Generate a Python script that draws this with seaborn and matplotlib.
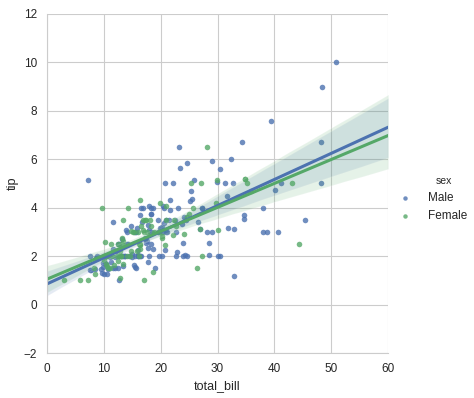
import pandas as pd
import matplotlib.pyplot as plt
import seaborn as sns

# ----------------------------
# Data (restaurant tips: total_bill, tip, sex)
# ----------------------------
total_bill = [
    16.99, 10.34, 21.01, 23.68, 24.59, 25.29, 8.77, 26.88, 15.04, 14.78,
    10.27, 35.26, 15.42, 18.43, 14.83, 21.58, 10.33, 16.29, 16.97, 20.65,
    17.92, 20.29, 15.77, 39.42, 19.82, 17.81, 13.37, 12.69, 21.7, 19.65,
    9.55, 18.35, 15.06, 20.69, 17.78, 24.06, 16.31, 16.93, 18.69, 31.27,
    16.04, 17.46, 13.94, 9.68, 30.4, 18.29, 22.23, 32.4, 28.55, 18.04,
    12.54, 10.29, 34.81, 9.94, 25.56, 19.49, 38.01, 26.41, 11.24, 48.27,
    20.29, 13.81, 11.02, 18.29, 17.59, 20.08, 16.45, 3.07, 20.23, 15.01,
    12.02, 17.07, 26.86, 25.28, 14.73, 10.51, 17.92, 27.2, 22.76, 17.29,
    19.44, 16.66, 10.07, 32.68, 15.98, 34.83, 13.03, 18.28, 24.71, 21.16,
    28.97, 22.49, 5.75, 16.32, 22.75, 40.17, 27.28, 12.03, 21.01, 12.46,
    11.35, 15.38, 44.3, 22.42, 20.92, 15.36, 20.49, 25.21, 18.24, 14.31,
    14.0, 7.25, 38.07, 23.95, 25.71, 17.31, 29.93, 10.65, 12.43, 24.08,
    11.69, 13.42, 14.26, 15.95, 12.48, 29.8, 8.52, 14.52, 11.38, 22.82,
    19.08, 20.27, 11.17, 12.26, 18.26, 8.51, 10.33, 14.15, 16.0, 13.16,
    17.47, 34.3, 41.19, 27.05, 16.43, 8.35, 18.64, 11.87, 9.78, 7.51,
    14.07, 13.13, 17.26, 24.55, 19.77, 29.85, 48.17, 25.0, 13.39, 16.49,
    21.5, 12.66, 16.21, 13.81, 17.51, 24.52, 20.76, 31.71, 10.59, 10.63,
    50.81, 15.81, 7.25, 31.85, 16.82, 32.9, 17.89, 14.48, 9.6, 34.63,
    34.65, 23.33, 45.35, 23.17, 40.55, 20.69, 20.9, 30.46, 18.15, 23.1,
    15.69, 19.81, 28.44, 15.48, 16.58, 7.56, 10.34, 43.11, 13.0, 13.51,
    18.71, 12.74, 13.0, 16.4, 20.53, 16.47, 26.59, 38.73, 24.27, 12.76,
    30.06, 25.89, 48.33, 13.27, 28.17, 12.9, 28.15, 11.59, 7.74, 30.14,
    12.16, 13.42, 8.58, 15.98, 13.42, 16.27, 10.09, 20.45, 13.28, 22.12,
    24.01, 15.69, 11.61, 10.77, 15.53, 10.07, 12.6, 32.83, 35.83, 29.03,
    27.18, 22.67, 17.82, 18.78,
]
tip = [
    1.01, 1.66, 3.5, 3.31, 3.61, 4.71, 2.0, 3.12, 1.96, 3.23,
    1.71, 5.0, 1.57, 3.0, 3.02, 3.92, 1.67, 3.71, 3.5, 3.35,
    4.08, 2.75, 2.23, 7.58, 3.18, 2.34, 2.0, 2.0, 4.3, 3.0,
    1.45, 2.5, 3.0, 2.45, 3.27, 3.6, 2.0, 3.07, 2.31, 5.0,
    2.24, 2.54, 3.06, 1.32, 5.6, 3.0, 5.0, 6.0, 2.05, 3.0,
    2.5, 2.6, 5.2, 1.56, 4.34, 3.51, 3.0, 1.5, 1.76, 6.73,
    3.21, 2.0, 1.98, 3.76, 2.64, 3.15, 2.47, 1.0, 2.01, 2.09,
    1.97, 3.0, 3.14, 5.0, 2.2, 1.25, 3.08, 4.0, 3.0, 2.71,
    3.0, 3.4, 1.83, 5.0, 2.03, 5.17, 2.0, 4.0, 5.85, 3.0,
    3.0, 3.5, 1.0, 4.3, 3.25, 4.73, 4.0, 1.5, 3.0, 1.5,
    2.5, 3.0, 2.5, 3.48, 4.08, 1.64, 4.06, 4.29, 3.76, 4.0,
    3.0, 1.0, 4.0, 2.55, 4.0, 3.5, 5.07, 1.5, 1.8, 2.92,
    2.31, 1.68, 2.5, 2.0, 2.52, 4.2, 1.48, 2.0, 2.0, 2.18,
    1.5, 2.83, 1.5, 2.0, 3.25, 1.25, 2.0, 2.0, 2.0, 2.75,
    3.5, 6.7, 5.0, 5.0, 2.3, 1.5, 1.36, 1.63, 1.73, 2.0,
    2.5, 2.0, 2.74, 2.0, 2.0, 5.14, 5.0, 3.75, 2.61, 2.0,
    3.5, 2.5, 2.0, 2.0, 3.0, 3.48, 2.24, 4.5, 1.61, 2.0,
    10.0, 3.16, 5.15, 3.18, 4.0, 3.11, 2.0, 2.0, 4.0, 3.55,
    3.68, 5.65, 3.5, 6.5, 3.0, 5.0, 3.5, 2.0, 3.5, 4.0,
    1.5, 4.19, 2.56, 2.02, 4.0, 1.44, 2.0, 5.0, 2.0, 2.0,
    4.0, 2.01, 2.0, 2.5, 4.0, 3.23, 3.41, 3.0, 2.03, 2.23,
    2.0, 5.16, 9.0, 2.5, 6.5, 1.1, 3.0, 1.5, 1.44, 3.09,
    2.2, 3.48, 1.92, 3.0, 1.58, 2.5, 2.0, 3.0, 2.72, 2.88,
    2.0, 3.0, 3.39, 1.47, 3.0, 1.25, 1.0, 1.17, 4.67, 5.92,
    2.0, 2.0, 1.75, 3.0,
]
M, F = "Male", "Female"
sex = [
    F, M, M, M, F, M, M, M, M, M,
    M, F, M, M, F, M, F, M, F, M,
    M, F, F, M, M, M, M, M, M, F,
    M, M, F, F, M, M, M, F, M, M,
    M, M, M, M, M, M, M, M, M, M,
    M, F, F, M, M, M, M, F, M, M,
    M, M, M, M, M, M, F, F, M, M,
    M, F, F, F, F, M, M, M, M, M,
    M, M, F, M, M, F, M, M, M, M,
    M, M, F, F, F, M, M, M, M, M,
    F, F, F, F, F, M, M, M, M, F,
    M, F, M, M, F, F, M, F, F, F,
    M, F, M, M, F, F, M, F, F, M,
    M, F, F, F, F, F, F, F, M, F,
    F, M, M, F, F, F, F, F, M, M,
    M, M, M, M, M, F, M, F, F, M,
    M, M, F, M, F, M, M, M, F, F,
    M, M, M, M, M, M, M, M, F, M,
    M, M, M, M, M, M, F, M, F, M,
    M, F, M, M, M, M, M, F, F, M,
    M, F, F, F, M, F, M, M, M, F,
    M, M, M, F, F, F, M, M, M, F,
    M, F, M, F, M, F, F, M, M, F,
    M, M, M, M, M, M, M, M, F, M,
    F, M, M, F,
]

df = pd.DataFrame({"total_bill": total_bill, "tip": tip, "sex": sex})

sex_order = ["Male", "Female"]
colors = {"Male": "#4C72B0", "Female": "#55A868"}

# ----------------------------
# Style
# ----------------------------
sns.set_style("whitegrid")
plt.rcParams["font.family"] = ["Liberation Sans", "DejaVu Sans"]
plt.rcParams["axes.edgecolor"] = ".8"
plt.rcParams["grid.color"] = ".8"
plt.rcParams["xtick.labelsize"] = 8.5
plt.rcParams["ytick.labelsize"] = 8.5
plt.rcParams["axes.labelsize"] = 9
plt.rcParams["text.color"] = ".15"

fig, ax = plt.subplots(figsize=(4.74, 3.98), dpi=100)
fig.subplots_adjust(left=0.099, right=0.819, top=0.965, bottom=0.113)
ax.set_xlim(0, 60)
ax.set_ylim(-2, 12)

for s in sex_order:
    sub = df[df["sex"] == s]
    sns.regplot(
        data=sub, x="total_bill", y="tip", ax=ax,
        color=colors[s], truncate=False, seed=0, label=s,
        scatter_kws={"s": 16, "alpha": 0.8, "linewidths": 0},
        line_kws={"linewidth": 2.2},
    )

ax.set_xlim(0, 60)
ax.set_ylim(-2, 12)
ax.set_xticks(range(0, 61, 10))
ax.set_yticks(range(-2, 13, 2))
sns.despine(ax=ax)
ax.set_xlabel("total_bill")
ax.set_ylabel("tip")

handles, labels = ax.get_legend_handles_labels()
leg = fig.legend(
    handles, labels, title="sex", loc="center left",
    bbox_to_anchor=(0.808, 0.5), frameon=False,
    fontsize=8.5, title_fontsize=7.5, markerscale=0.8,
    handletextpad=0.9, labelspacing=0.55, alignment="center",
)
# nudge the title so it sits over the labels like the original
leg.get_title().set_position((14, 0))

plt.savefig("out.png", dpi=100)
plt.close()
